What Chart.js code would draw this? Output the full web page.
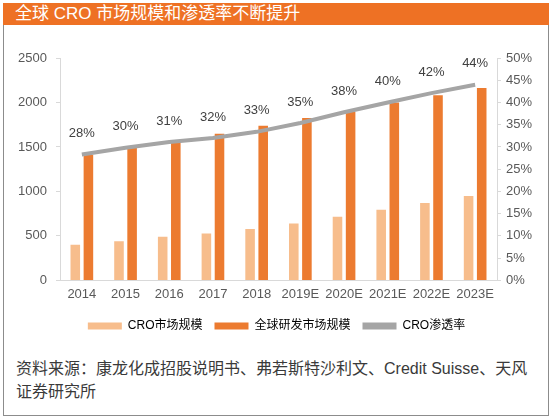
<!DOCTYPE html>
<html>
<head>
<meta charset="utf-8">
<script src="https://cdn.jsdelivr.net/npm/chart.js@4/dist/chart.umd.min.js"></script>
<style>
  body { margin: 0; background: #fff; }
  #box {
    position: absolute; left: 3px; top: 3px; width: 544px; height: 412px;
    border: 1px solid #8c8c8c; border-top: none;
  }
  #title {
    position: absolute; left: 3px; top: 3px; width: 546px; height: 22px;
    background: #ee7124; color: #fff;
    font: 17px "Liberation Sans", "Noto Sans CJK SC", sans-serif;
    line-height: 22px; padding-left: 12px; box-sizing: border-box;
  }
  #wrap { position: absolute; left: 0; top: 30px; width: 553px; height: 312px; }
  #source {
    position: absolute; left: 16px; top: 357px; width: 535px;
    font: 16px "Liberation Sans", "Noto Sans CJK SC", sans-serif;
    line-height: 23px; color: #3a3a3a;
  }
</style>
</head>
<body>
<div id="box"></div>
<div id="title">全球 CRO 市场规模和渗透率不断提升</div>
<div id="wrap"><canvas id="chart"></canvas></div>
<div id="source">资料来源：康龙化成招股说明书、弗若斯特沙利文、Credit Suisse、天风<br>证券研究所</div>
<script>
const years = ['2014', '2015', '2016', '2017', '2018', '2019E', '2020E', '2021E', '2022E', '2023E'];
const croMarket = [400, 440, 490, 528, 577, 641, 716, 795, 871, 950];
const globalRnd = [1411, 1504, 1572, 1648, 1738, 1825, 1893, 1999, 2081, 2164];
const penetration = [28.3, 29.8, 31.1, 32, 33.4, 35.4, 37.8, 40, 42.1, 44];

const font = '"Liberation Sans", "Noto Sans CJK SC", sans-serif';
const axisColor = '#d9d9d9';

// percent labels above the line
const lineLabels = {
    id: 'lineLabels',
    afterDatasetsDraw(chart) {
        const meta = chart.getDatasetMeta(2);
        const ctx = chart.ctx;
        ctx.save();
        ctx.font = '13px ' + font;
        ctx.fillStyle = '#404040';
        ctx.textAlign = 'center';
        ctx.textBaseline = 'middle';
        meta.data.forEach((pt, i) => {
            ctx.fillText(Math.round(penetration[i]) + '%', pt.x, pt.y - 21);
        });
        ctx.restore();
    }
};

new Chart(document.getElementById('chart'), {
    type: 'bar',
    data: {
        labels: years,
        datasets: [
            {
                label: 'CRO市场规模',
                data: croMarket,
                backgroundColor: '#f7bd8c',
                yAxisID: 'y',
                order: 2
            },
            {
                label: '全球研发市场规模',
                data: globalRnd,
                backgroundColor: '#ec7b30',
                yAxisID: 'y',
                order: 2
            },
            {
                type: 'line',
                label: 'CRO渗透率',
                data: penetration,
                borderColor: '#a5a5a5',
                backgroundColor: '#a5a5a5',
                borderWidth: 4,
                pointRadius: 0,
                tension: 0,
                yAxisID: 'y1',
                order: 1
            }
        ]
    },
    options: {
        responsive: true,
        maintainAspectRatio: false,
        animation: false,
        categoryPercentage: 0.6,
        barPercentage: 0.73,
        layout: { padding: { top: 28, left: 0, right: 0, bottom: 0 } },
        plugins: {
            tooltip: { enabled: false },
            legend: {
                position: 'bottom',
                labels: {
                    boxWidth: 34,
                    boxHeight: 7,
                    padding: 12,
                    color: '#595959',
                    font: { family: font, size: 12 },
                    sort: (a, b) => a.datasetIndex - b.datasetIndex,
                    generateLabels(chart) {
                        return chart.data.datasets.map((ds, i) => ({
                            text: ds.label,
                            fillStyle: ds.type === 'line' ? ds.borderColor : ds.backgroundColor,
                            strokeStyle: 'transparent',
                            lineWidth: 0,
                            datasetIndex: i
                        }));
                    }
                }
            }
        },
        scales: {
            x: {
                grid: { display: false, drawTicks: false },
                border: { display: true, color: axisColor },
                ticks: { color: '#595959', padding: 6, font: { family: font, size: 13 }, maxRotation: 0, autoSkip: false }
            },
            y: {
                position: 'left',
                min: 0,
                max: 2500,
                grid: { drawOnChartArea: false, tickLength: 4, color: axisColor },
                border: { color: axisColor },
                ticks: { stepSize: 500, color: '#595959', padding: 9, font: { family: font, size: 13 }, callback: v => String(v) },
                afterFit(scale) { scale.width = 60; }
            },
            y1: {
                position: 'right',
                min: 0,
                max: 50,
                grid: { drawOnChartArea: false, tickLength: 4, color: axisColor },
                border: { color: axisColor },
                ticks: { stepSize: 5, color: '#595959', padding: 5, font: { family: font, size: 13 }, callback: v => v + '%' },
                afterFit(scale) { scale.width = 56; }
            }
        }
    },
    plugins: [lineLabels]
});
</script>
</body>
</html>
